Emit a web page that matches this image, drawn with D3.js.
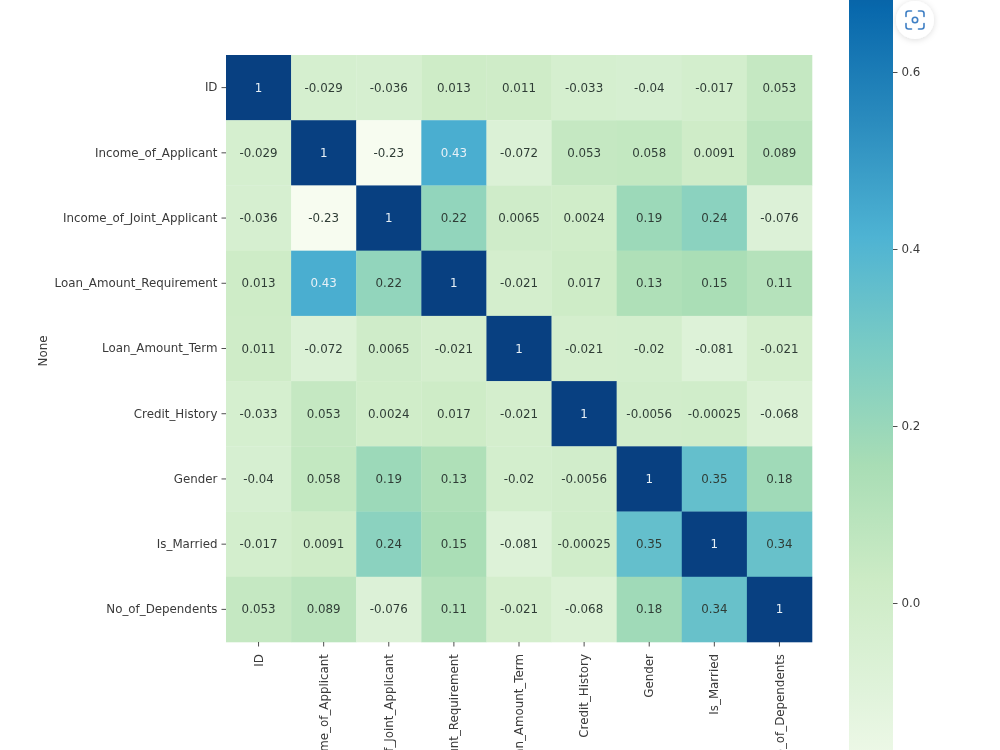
<!DOCTYPE html>
<html>
<head>
<meta charset="utf-8">
<script src="https://cdn.jsdelivr.net/npm/d3@7"></script>
<style>
html,body{margin:0;padding:0;background:#fff;overflow:hidden}
svg{display:block}
text{font-family:"DejaVu Sans",sans-serif}
#chart{filter:blur(0.45px)}
</style>
</head>
<body>
<svg id="svg" width="1000" height="750"></svg>
<script>
const labels = ["ID","Income_of_Applicant","Income_of_Joint_Applicant","Loan_Amount_Requirement","Loan_Amount_Term","Credit_History","Gender","Is_Married","No_of_Dependents"];
const rowID        = [1,-0.029,-0.036,0.013,0.011,-0.033,-0.04,-0.017,0.053];
const rowIncome    = [-0.029,1,-0.23,0.43,-0.072,0.053,0.058,0.0091,0.089];
const rowJoint     = [-0.036,-0.23,1,0.22,0.0065,0.0024,0.19,0.24,-0.076];
const rowLoan      = [0.013,0.43,0.22,1,-0.021,0.017,0.13,0.15,0.11];
const rowTerm      = [0.011,-0.072,0.0065,-0.021,1,-0.021,-0.02,-0.081,-0.021];
const rowCredit    = [-0.033,0.053,0.0024,0.017,-0.021,1,-0.0056,-0.00025,-0.068];
const rowGender    = [-0.04,0.058,0.19,0.13,-0.02,-0.0056,1,0.35,0.18];
const rowMarried   = [-0.017,0.0091,0.24,0.15,-0.081,-0.00025,0.35,1,0.34];
const rowDependents= [0.053,0.089,-0.076,0.11,-0.021,-0.068,0.18,0.34,1];
const matrix = [rowID,rowIncome,rowJoint,rowLoan,rowTerm,rowCredit,rowGender,rowMarried,rowDependents];
const colorTicks = [0,0.2,0.4,0.6];
const vMin = -0.23, vMax = 0.8;
const yAxisTitle = "None";
const palette = ["#f7fcf0","#e0f3db","#ccebc5","#a8ddb5","#7bccc4","#4eb3d3","#2b8cbe","#0868ac","#084081"];

const svg = d3.select("#svg");
const chart = svg.append("g").attr("id","chart");
const inkAxis = "#3a3a3a", fs = 11.85;

const x = d3.scaleBand().domain(labels).range([226,812]);
const y = d3.scaleBand().domain(labels).range([55,642]);
const color = d3.scaleLinear()
  .domain(palette.map((_,i)=>vMin+(vMax-vMin)*i/(palette.length-1)))
  .range(palette).interpolate(d3.interpolateRgb).clamp(true);

const cells = matrix.flatMap((row,r)=>row.map((v,c)=>({r:labels[r],c:labels[c],v})));
chart.append("g").selectAll("rect").data(cells).join("rect")
  .attr("x",d=>x(d.c)).attr("y",d=>y(d.r))
  .attr("width",x.bandwidth()+0.3).attr("height",y.bandwidth()+0.3)
  .attr("fill",d=>color(d.v));

const lum = c=>{const o=d3.rgb(c);const f=u=>{u/=255;return u<=0.03928?u/12.92:Math.pow((u+0.055)/1.055,2.4)};return 0.2126*f(o.r)+0.7152*f(o.g)+0.0722*f(o.b)};
chart.append("g").selectAll("text").data(cells).join("text")
  .attr("x",d=>x(d.c)+x.bandwidth()/2).attr("y",d=>y(d.r)+y.bandwidth()/2)
  .attr("text-anchor","middle").attr("dominant-baseline","central")
  .attr("font-size",fs)
  .attr("fill",d=>lum(color(d.v))<0.408?"#e8f1f7":"#2f3d36")
  .text(d=>String(d.v));

function styleAxis(g){
  g.select(".domain").remove();
  g.selectAll(".tick line").attr("stroke",inkAxis).attr("stroke-width",0.9);
  g.selectAll(".tick text").attr("fill",inkAxis).attr("font-size",fs).attr("font-family",'"DejaVu Sans",sans-serif');
}
chart.append("g").attr("transform","translate(226,0)")
  .call(d3.axisLeft(y).tickSize(4.5).tickPadding(4)).call(styleAxis);
const xAxis = chart.append("g").attr("transform","translate(0,642)")
  .call(d3.axisBottom(x).tickSize(4.5).tickPadding(4)).call(styleAxis);
xAxis.selectAll(".tick text")
  .attr("transform","rotate(-90)").attr("text-anchor","end")
  .attr("x",-12).attr("y",0).attr("dy","0.35em");

chart.append("text").attr("transform","translate(43,351) rotate(-90)")
  .attr("text-anchor","middle").attr("dominant-baseline","central")
  .attr("font-size",fs).attr("fill",inkAxis).text(yAxisTitle);

// colour bar
const cb = d3.scaleLinear().domain([0,0.6]).range([603,72]);
const grad = svg.append("defs").append("linearGradient").attr("id","cbGrad")
  .attr("gradientUnits","userSpaceOnUse").attr("x1",0).attr("x2",0).attr("y1",cb(vMin)).attr("y2",cb(vMax));
palette.forEach((p,i)=>grad.append("stop").attr("offset",i/(palette.length-1)).attr("stop-color",p));
chart.append("rect").attr("x",849).attr("width",44)
  .attr("y",cb(vMax)).attr("height",cb(vMin)-cb(vMax)).attr("fill","url(#cbGrad)");
chart.append("g").attr("transform","translate(893,0)")
  .call(d3.axisRight(cb).tickValues(colorTicks).tickFormat(d3.format(".1f")).tickSize(4.5).tickPadding(4))
  .call(styleAxis);

// screen-capture button overlaying the screenshot
const btn = svg.append("g").attr("transform","translate(915,20)");
const sh = svg.select("defs").append("filter").attr("id","btnShadow").attr("x","-50%").attr("y","-50%").attr("width","200%").attr("height","200%");
sh.append("feDropShadow").attr("dx",0).attr("dy",1).attr("stdDeviation",3).attr("flood-color","#000").attr("flood-opacity",0.14);
btn.append("circle").attr("r",19).attr("fill","#fff").attr("filter","url(#btnShadow)");
btn.append("path").attr("fill","none").attr("stroke","#3f7fc4").attr("stroke-width",1.6).attr("stroke-linecap","round")
  .attr("d","M-9,-3.5V-6.5Q-9,-9,-6.5,-9H-3.5M3.5,-9H6.5Q9,-9,9,-6.5V-3.5M9,3.5V6.5Q9,9,6.5,9H3.5M-3.5,9H-6.5Q-9,9,-9,6.5V3.5");
btn.append("circle").attr("r",2.7).attr("fill","none").attr("stroke","#3f7fc4").attr("stroke-width",1.6);
</script>
</body>
</html>
